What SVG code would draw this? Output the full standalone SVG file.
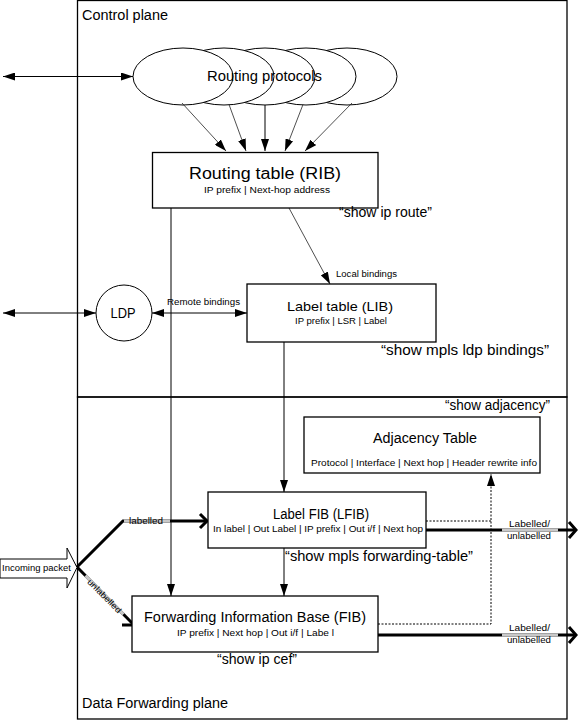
<svg xmlns="http://www.w3.org/2000/svg" width="579" height="720" viewBox="0 0 579 720">
<style>
text{font-family:"Liberation Sans",Arial,sans-serif;fill:#000}
.b{font-size:14px}
.s{font-size:8.5px}
.m{text-anchor:middle}
.box{fill:#fff;stroke:#000;stroke-width:1.3}
.ell{fill:#fff;stroke:#000;stroke-width:1}
.ln{stroke:#000;stroke-width:1;fill:none}
.thin{stroke:#222;stroke-width:0.8;fill:none}
.thick{stroke:#000;stroke-width:3;fill:none}
.grey{stroke:#c8c8c8;stroke-width:3;fill:none}
.chev{stroke:#000;stroke-width:3;fill:none;stroke-linejoin:miter}
.dot{stroke:#000;stroke-width:1;stroke-dasharray:2 1.5;fill:none}
</style>
<defs>
<marker id="ar" markerUnits="userSpaceOnUse" markerWidth="12" markerHeight="8" refX="12" refY="4" orient="auto-start-reverse"><path d="M0,0L12,4L0,8z" fill="#000"/></marker>
</defs>
<rect x="0" y="0" width="579" height="720" fill="#fff"/>

<g id="control-plane">
<rect x="77.5" y="0.5" width="489.5" height="396.5" fill="none" stroke="#000" stroke-width="1.3"/>
<text x="82" y="20" class="b" textLength="86" lengthAdjust="spacingAndGlyphs">Control plane</text>
</g>
<g id="data-forwarding-plane">
<rect x="77.5" y="397" width="489.5" height="322" fill="none" stroke="#000" stroke-width="1.3"/>
<text x="82" y="708" class="b" textLength="146" lengthAdjust="spacingAndGlyphs">Data Forwarding plane</text>
</g>

<g id="routing-protocols">
<ellipse cx="347" cy="76.5" rx="50" ry="28.5" class="ell"/>
<ellipse cx="306" cy="76.5" rx="50" ry="28.5" class="ell"/>
<ellipse cx="265" cy="76.5" rx="50" ry="28.5" class="ell"/>
<ellipse cx="224" cy="76.5" rx="50" ry="28.5" class="ell"/>
<ellipse cx="183" cy="76.5" rx="50" ry="28.5" class="ell"/>
<text x="264.5" y="81" class="b m" textLength="115" lengthAdjust="spacingAndGlyphs">Routing protocols</text>
</g>

<g id="connectors">
<line x1="3" y1="76.5" x2="133" y2="76.5" class="ln" marker-start="url(#ar)" marker-end="url(#ar)"/>
<line x1="182" y1="103" x2="226" y2="151" class="thin" marker-end="url(#ar)"/>
<line x1="229" y1="104.5" x2="246" y2="151" class="thin" marker-end="url(#ar)"/>
<line x1="265" y1="105" x2="265" y2="151" class="ln" marker-end="url(#ar)"/>
<line x1="303" y1="104.5" x2="285" y2="151" class="thin" marker-end="url(#ar)"/>
<line x1="352" y1="103" x2="305" y2="151" class="thin" marker-end="url(#ar)"/>
<line x1="289" y1="208" x2="330" y2="284" class="thin" marker-end="url(#ar)"/>
<line x1="171" y1="208" x2="171" y2="596" class="ln" marker-end="url(#ar)"/>
<line x1="3" y1="313" x2="96" y2="313" class="ln" marker-start="url(#ar)" marker-end="url(#ar)"/>
<line x1="152" y1="313" x2="247" y2="313" class="ln" marker-start="url(#ar)" marker-end="url(#ar)"/>
<line x1="284" y1="342" x2="284" y2="492" class="ln" marker-end="url(#ar)"/>
<line x1="284" y1="548" x2="284" y2="596" class="ln" marker-end="url(#ar)"/>
<path d="M426,521H491" class="dot"/>
<path d="M378,624H491V474" class="dot"/>
<path d="M491,486L487,486L491,474L495,486z" fill="#000"/>
<path d="M77,567L123,521H206" class="thick"/>
<path d="M124,521H170" class="grey"/>
<path d="M200,514L207,521L200,528" class="chev"/>
<path d="M77,567L133,624" class="thick"/>
<path d="M85.5,575.6L123.5,614.3" class="grey"/>
<path d="M134,613V625H122" class="chev"/>
<path d="M426,530H574" class="thick"/>
<path d="M502,530H558" class="grey"/>
<path d="M569,522L576,530L569,538" class="chev"/>
<path d="M378,635H574" class="thick"/>
<path d="M502,635H558" class="grey"/>
<path d="M569,627L576,635L569,643" class="chev"/>
<text x="336" y="277" class="s" textLength="61" lengthAdjust="spacingAndGlyphs">Local bindings</text>
<text x="167" y="305" class="s" textLength="73" lengthAdjust="spacingAndGlyphs">Remote bindings</text>
<text x="129" y="524" class="s" textLength="34" lengthAdjust="spacingAndGlyphs">labelled</text>
<text transform="translate(104.5,596) rotate(45)" x="0" y="3" class="s m" textLength="44" lengthAdjust="spacingAndGlyphs">unlabelled</text>
<text x="529.5" y="527" class="s m" textLength="41" lengthAdjust="spacingAndGlyphs">Labelled/</text>
<text x="529" y="539" class="s m" textLength="44" lengthAdjust="spacingAndGlyphs">unlabelled</text>
<text x="529.5" y="631" class="s m" textLength="41" lengthAdjust="spacingAndGlyphs">Labelled/</text>
<text x="529" y="643" class="s m" textLength="44" lengthAdjust="spacingAndGlyphs">unlabelled</text>
</g>

<g id="incoming-packet">
<polygon points="0,559 67,559 67,548 77,567.5 67,588 67,578 0,578" fill="#fff" stroke="#000" stroke-width="1"/>
<text x="2" y="571" class="s" textLength="69" lengthAdjust="spacingAndGlyphs">Incoming packet</text>
</g>

<g id="rib">
<rect x="152.5" y="152.5" width="225.5" height="55.5" class="box"/>
<text x="265" y="179" class="m" font-size="16" textLength="152" lengthAdjust="spacingAndGlyphs">Routing table (RIB)</text>
<text x="267" y="193" class="s m" textLength="126" lengthAdjust="spacingAndGlyphs">IP prefix | Next-hop address</text>
<text x="339" y="217" class="b" textLength="93" lengthAdjust="spacingAndGlyphs">“show ip route”</text>
</g>

<g id="ldp">
<circle cx="124" cy="313" r="28" fill="#fff" stroke="#000" stroke-width="1"/>
<text x="123" y="318" class="b m" textLength="25" lengthAdjust="spacingAndGlyphs">LDP</text>
</g>

<g id="lib">
<rect x="247" y="284" width="189" height="58" class="box"/>
<text x="340" y="311" class="m" font-size="13.5" textLength="106" lengthAdjust="spacingAndGlyphs">Label table (LIB)</text>
<text x="341" y="324" class="s m" textLength="92" lengthAdjust="spacingAndGlyphs">IP prefix | LSR | Label</text>
<text x="381" y="355" class="b" textLength="168" lengthAdjust="spacingAndGlyphs">“show mpls ldp bindings”</text>
</g>

<g id="adjacency-table">
<text x="445" y="410" class="b" textLength="105" lengthAdjust="spacingAndGlyphs">“show adjacency”</text>
<rect x="304" y="417" width="236" height="56" class="box"/>
<text x="425" y="443" class="b m" textLength="104" lengthAdjust="spacingAndGlyphs">Adjacency Table</text>
<text x="424" y="466" class="s m" textLength="226" lengthAdjust="spacingAndGlyphs">Protocol | Interface | Next hop | Header rewrite info</text>
</g>

<g id="lfib">
<rect x="208" y="492" width="218" height="56" class="box"/>
<text x="321" y="519" class="b m" textLength="96" lengthAdjust="spacingAndGlyphs">Label FIB (LFIB)</text>
<text x="318" y="532" class="s m" textLength="210" lengthAdjust="spacingAndGlyphs">In label | Out Label | IP prefix | Out i/f | Next hop</text>
<text x="285" y="561" class="b" textLength="188" lengthAdjust="spacingAndGlyphs">“show mpls forwarding-table”</text>
</g>

<g id="fib">
<rect x="132" y="596" width="246" height="56" class="box"/>
<text x="255" y="622" class="b m" textLength="222" lengthAdjust="spacingAndGlyphs">Forwarding Information Base (FIB)</text>
<text x="255.5" y="636" class="s m" textLength="157" lengthAdjust="spacingAndGlyphs">IP prefix | Next hop | Out i/f | Labe l</text>
<text x="217" y="664" class="b" textLength="80" lengthAdjust="spacingAndGlyphs">“show ip cef”</text>
</g>
</svg>
